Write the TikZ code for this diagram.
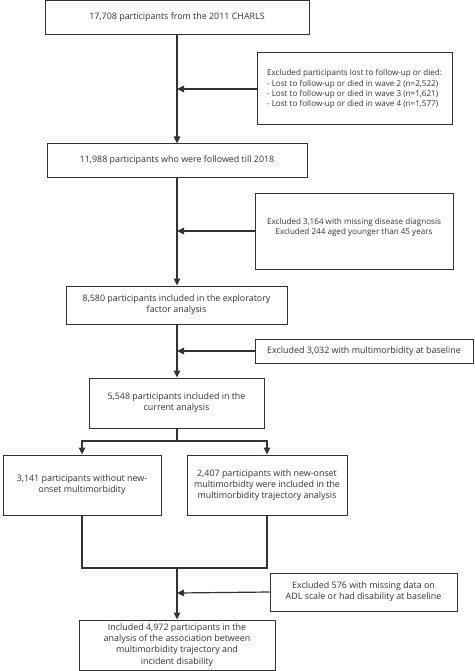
\documentclass[tikz,border=0pt]{standalone}
\usepackage{fontspec}
\setmainfont{Open Sans}
\usetikzlibrary{arrows.meta}
\definecolor{ink}{HTML}{333333}
\begin{document}
\begin{tikzpicture}[x=1pt,y=-1pt,
  box/.style={draw=ink,line width=1pt,inner sep=0pt,align=center,text=ink,font=\fontsize{8.9}{11.3}\selectfont},
  exbox/.style={box,font=\fontsize{8.1}{10.2}\selectfont},
  conn/.style={draw=ink,line width=1.2pt},
  arr/.style={conn,-{Triangle[length=7pt,width=6.5pt]}}]
\useasboundingbox (0,0) rectangle (474,671);
% main boxes
\node[box,minimum width=264pt,minimum height=34pt] (b1) at (177,17.5) {17,708 participants from the 2011 CHARLS};
\node[box,minimum width=260pt,minimum height=33pt] (b2) at (177,160.5) {11,988 participants who were followed till 2018};
\node[box,minimum width=221pt,minimum height=38pt] (b3) at (176.5,305) {8,580 participants included in the exploratory\\factor analysis};
\node[box,minimum width=175pt,minimum height=50pt] (b4) at (176.5,403) {5,548 participants included in the\\current analysis};
\node[box,minimum width=158pt,minimum height=60pt] (b5l) at (82,485) {3,141 participants without new-\\onset multimorbidity};
\node[box,minimum width=160pt,minimum height=60pt] (b5r) at (267,485) {2,407 participants with new-onset\\multimorbidty were included in the\\multimorbidity trajectory analysis};
\node[box,minimum width=196pt,minimum height=50pt] (b6) at (177,645) {Included 4,972 participants in the\\analysis of the association between\\multimorbidity trajectory and\\incident disability};
% exclusion boxes
\node[exbox,align=left,minimum width=195pt,minimum height=72pt] (e1) at (354.5,89) {Excluded participants lost to follow-up or died:\\- Lost to follow-up or died in wave 2 (n=2,522)\\- Lost to follow-up or died in wave 3 (n=1,621)\\- Lost to follow-up or died in wave 4 (n=1,577)};
\node[exbox,minimum width=198pt,minimum height=76pt,label={[exbox,draw=none,yshift=4pt]center:Excluded 3,164 with missing disease diagnosis\\Excluded 244 aged younger than 45 years}] (e2) at (354,231) {};
\node[box,minimum width=218pt,minimum height=24pt] (e3) at (364,351) {Excluded 3,032 with multimorbidity at baseline};
\node[box,minimum width=187pt,minimum height=38pt] (e4) at (363.5,592) {Excluded 576 with missing data on\\ADL scale or had disability at baseline};
% junctions
\coordinate (j1) at (177,89);
\coordinate (j2) at (177,231);
\coordinate (j3) at (177,351);
\coordinate (s1) at (177,441);
\coordinate (m) at (177,568);
\coordinate (j4) at (177,593);
% connectors
\draw[arr] (b1.south) -- (b2.north);
\draw[arr] (e1.west) -- (j1);
\draw[arr] (b2.south) -- (b3.north-|b2.south);
\draw[arr] (e2.west) -- (j2);
\draw[arr] (b3.south-|b2.south) -- (b4.north-|b2.south);
\draw[arr] (e3.west) -- (j3);
\draw[conn] (b4.south-|s1) -- (s1);
\draw[arr] (s1) -| (b5l.north);
\draw[arr] (s1) -| (b5r.north);
\draw[conn] (b5l.south) |- (m) -| (b5r.south);
\draw[arr] (m) -- (b6.north);
\draw[arr] (e4.west) -- (j4);
\end{tikzpicture}
\end{document}
